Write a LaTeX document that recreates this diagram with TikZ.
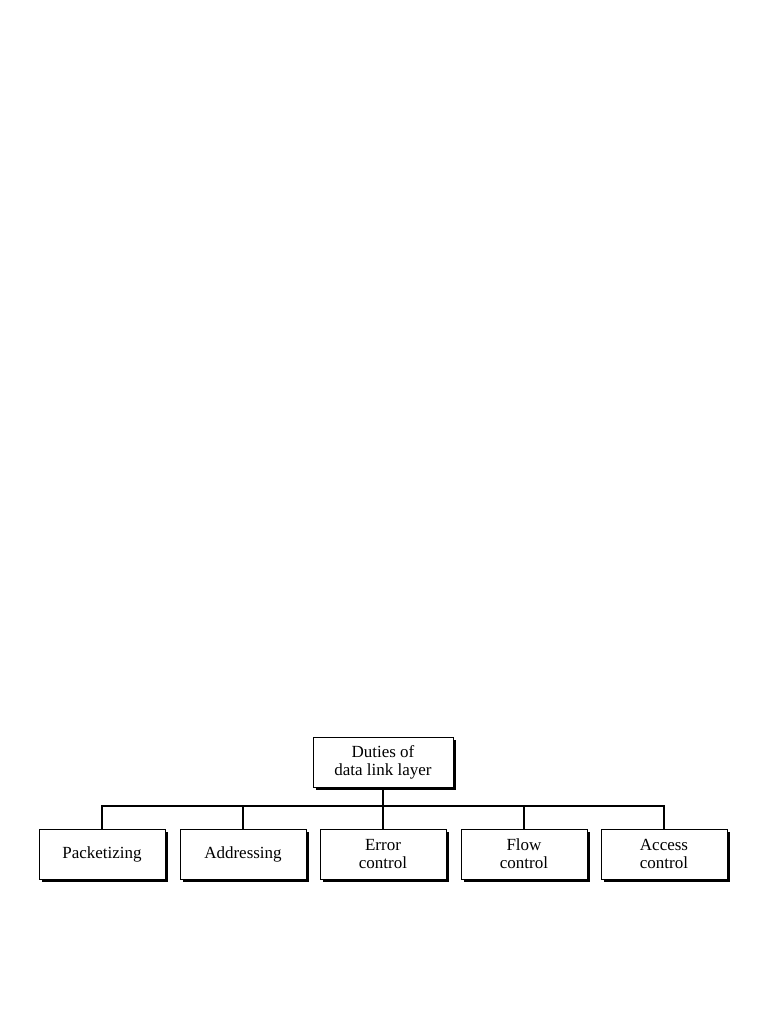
\documentclass[tikz,border=0pt]{standalone}
\usepackage{fontspec}
\setmainfont{Liberation Serif}
\usetikzlibrary{shadows}
\begin{document}
\begin{tikzpicture}[x=1pt,y=-1pt,
  box/.style={draw,fill=white,line width=0.9pt,minimum height=50pt,align=center,font=\fontsize{17}{18}\selectfont,inner sep=0pt,
    general shadow={fill=black,shadow xshift=3pt,shadow yshift=-3pt}},
  ln/.style={line width=1.3pt}]
\useasboundingbox (0,0) rectangle (768,1024);
\node[box,minimum width=140pt] (top) at (383,762) {Duties of\\data link layer};
\coordinate (bus) at (383,806);
\node[box,minimum width=126pt] (p) at (102,854) {Packetizing};
\node[box,minimum width=126pt] (a) at (243,854) {Addressing};
\node[box,minimum width=126pt] (e) at (383,854) {Error\\control};
\node[box,minimum width=126pt] (f) at (524,854) {Flow\\control};
\node[box,minimum width=126pt] (c) at (664,854) {Access\\control};
\begin{scope}[on background layer/.style={}]
\draw[ln] (top.south) -- (e.north);
\draw[ln] (p.north) -- (p.north |- bus) -- (c.north |- bus) -- (c.north);
\draw[ln] (a.north) -- (a.north |- bus);
\draw[ln] (f.north) -- (f.north |- bus);
\end{scope}
\end{tikzpicture}
\end{document}
